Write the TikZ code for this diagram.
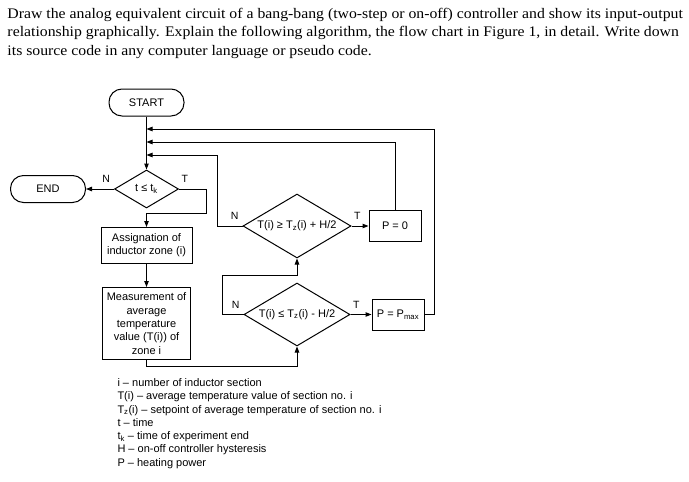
\documentclass[tikz,border=0pt]{standalone}
\usepackage{fontspec}
\setmainfont{Liberation Serif}
\setsansfont{Liberation Sans}
\newfontfamily\taskfont[FakeStretch=1.08]{Liberation Serif}
\usepackage{tikz}
\usetikzlibrary{shapes.geometric, arrows.meta, positioning}

\begin{document}
\begin{tikzpicture}[
        x=1pt, y=-1pt,
        line width=1pt,
        font=\sffamily\fontsize{11}{13.3}\selectfont,
        terminal/.style={
            rectangle,
            draw,
            minimum width=75pt,
            minimum height=27pt,
            rounded corners=13pt,
            inner sep=0pt
        },
        process/.style={
            rectangle,
            draw,
            align=center,
            inner sep=0pt
        },
        decision/.style={
            diamond,
            draw,
            inner sep=0pt
        },
        line/.style={
            draw,
            -{Triangle[length=6pt, width=4.5pt]}
        },
        flag/.style={
            font=\sffamily\fontsize{10.5}{12}\selectfont,
            inner sep=2pt
        }
    ]
    \path[use as bounding box, fill=white] (0,0) rectangle (689,482);

    % Task text
    \node[anchor=north west, align=left, inner sep=0pt,
          font=\taskfont\fontsize{14.6}{18.5}\selectfont] (task) at (7,7.5)
        {Draw the analog equivalent circuit of a bang-bang (two-step or on-off) controller and show its input-output\\
         relationship graphically. Explain the following algorithm, the flow chart in Figure 1, in detail. Write down\\
         its source code in any computer language or pseudo code.};

    % Nodes
    \node[terminal] (start) at (146.5,102.5) {START};
    \node[decision, minimum width=64pt, minimum height=38pt, below=53pt of start] (cond_t) {t ≤ t\textsubscript{k}};
    \node[terminal, left=28pt of cond_t] (end) {END};
    \node[process, minimum width=91pt, minimum height=36pt, below=18.5pt of cond_t] (assign) {Assignation of\\inductor zone (i)};
    \node[process, minimum width=88pt, minimum height=72pt, below=23pt of assign] (measure)
        {Measurement of\\average\\temperature\\value (T(i)) of\\zone i};
    \node[decision, minimum width=108pt, minimum height=64pt,
          label=center:{T(i) ≥ T\textsubscript{z}(i) + H/2}] (cond_hi) at (297,226) {};
    \node[decision, minimum width=106pt, minimum height=63pt, below=24pt of cond_hi,
          label=center:{T(i) ≤ T\textsubscript{z}(i) - H/2}] (cond_lo) {};
    \node[process, minimum width=52pt, minimum height=31pt, right=17pt of cond_hi] (p_off) {P = 0};
    \node[process, minimum width=52pt, minimum height=31pt, right=21pt of cond_lo] (p_max) {P = P\textsubscript{max}};

    % Loop joints on the main line
    \coordinate (join_a) at (146.5,129);
    \coordinate (join_b) at (146.5,142);
    \coordinate (join_c) at (146.5,155);

    % Legend
    \node[anchor=north west, align=left, inner sep=0pt] (legend) at (117,378)
        {i -- number of inductor section\\
         T(i) -- average temperature value of section no. i\\
         T\textsubscript{z}(i) -- setpoint of average temperature of section no. i\\
         t -- time\\
         t\textsubscript{k} -- time of experiment end\\
         H -- on-off controller hysteresis\\
         P -- heating power};

    % Arrows
    \draw[line] (start) -- (cond_t);
    \draw[line] (cond_t.west) node[flag, above left=4pt and 1.5pt] {N} -- (end.east);
    \draw[line] (cond_t.east) node[flag, above right=4pt and 0pt] {T} -- ++(27,0) -- ++(0,24.5) -| (assign.north);
    \draw[line] (assign) -- (measure);
    \draw[line] (measure.south) -- ++(0,6) -| (cond_lo.south);
    \draw[line] (cond_lo.west) node[flag, above left=4pt and 1.5pt] {N} -- ++(-21,0) -- ++(0,-39.5) -| (cond_hi.south);
    \draw[line] (cond_hi.west) node[flag, above left=4pt and 1.5pt] {N} -- ++(-25,0) |- (join_c);
    \draw[line] (cond_hi.east) node[flag, above right=4pt and 0pt] {T} -- (p_off.west);
    \draw[line] (cond_lo.east) node[flag, above right=4pt and 0pt] {T} -- (p_max.west);
    \draw[line] (p_off.north) |- (join_b);
    \draw[line] (p_max.east) -- ++(10,0) |- (join_a);
\end{tikzpicture}
\end{document}
